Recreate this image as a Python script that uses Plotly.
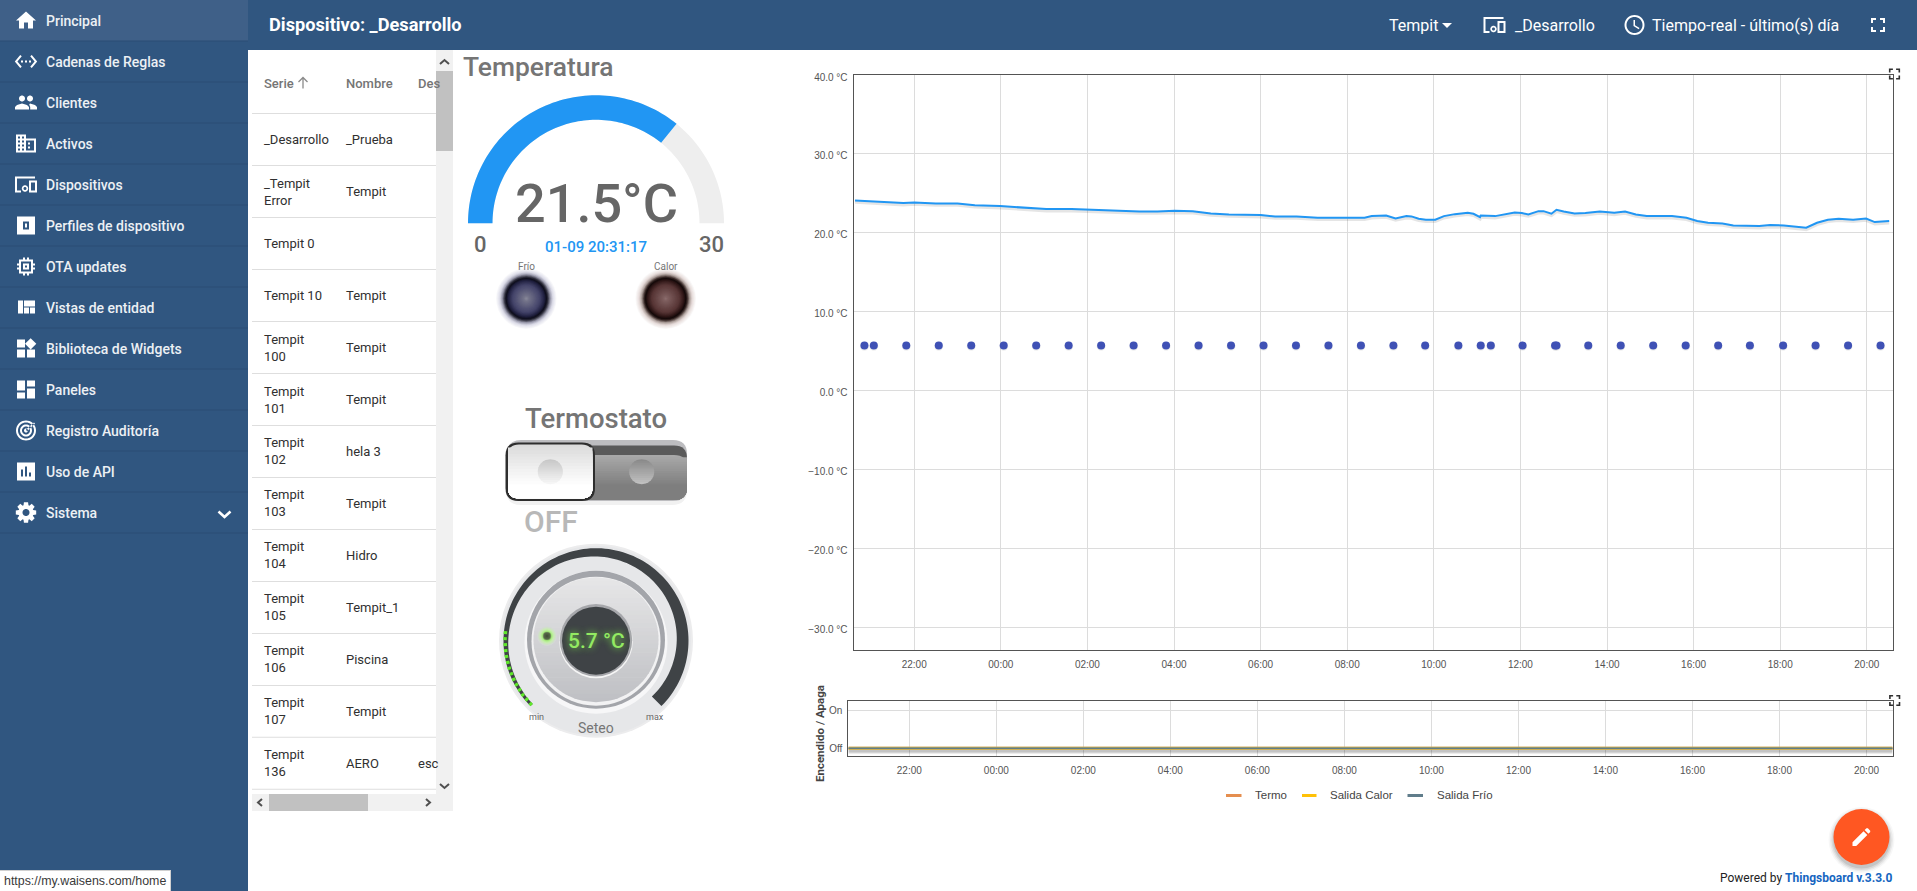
import numpy as np
import plotly.graph_objects as go

W, H = 1917, 891

# ---------------- data ----------------
temp_times = ["01-08 20:38","01-08 21:01","01-08 21:20","01-08 21:45","01-08 22:00","01-08 22:30","01-08 23:00","01-08 23:24","01-08 23:59",
 "01-09 00:24","01-09 00:48","01-09 01:03","01-09 01:38","01-09 02:12","01-09 02:47","01-09 03:12","01-09 03:37","01-09 04:01","01-09 04:26",
 "01-09 04:51","01-09 05:16","01-09 06:00","01-09 06:20","01-09 06:50","01-09 07:19","01-09 08:04","01-09 08:24","01-09 08:34","01-09 08:54",
 "01-09 09:07","01-09 09:22","01-09 09:29","01-09 09:39","01-09 09:49","01-09 10:02","01-09 10:14","01-09 10:29","01-09 10:47","01-09 10:55",
 "01-09 11:04","01-09 11:05","01-09 11:25","01-09 11:40","01-09 11:52","01-09 12:02","01-09 12:11","01-09 12:25","01-09 12:32","01-09 12:43",
 "01-09 12:50","01-09 13:00","01-09 13:15","01-09 13:30","01-09 13:50","01-09 14:10","01-09 14:25","01-09 14:40","01-09 14:55","01-09 15:30",
 "01-09 15:50","01-09 16:05","01-09 16:20","01-09 16:40","01-09 16:55","01-09 17:31","01-09 17:46","01-09 18:05","01-09 18:36","01-09 18:51",
 "01-09 19:06","01-09 19:21","01-09 19:41","01-09 19:59","01-09 20:11","01-09 20:31"]
temp_values = [24.09,23.97,23.80,23.76,23.84,23.71,23.71,23.50,23.38,23.21,23.12,23.0,23.0,22.87,22.83,22.70,22.70,22.78,22.74,22.45,22.32,
 22.24,22.07,22.07,21.90,21.90,21.90,22.11,22.19,21.81,22.11,22.07,21.77,21.65,21.65,22.11,22.36,22.53,22.41,21.98,22.19,22.11,22.32,22.57,
 22.49,22.32,22.74,22.74,22.41,22.91,22.70,22.45,22.49,22.70,22.53,22.70,22.32,22.11,22.11,21.90,21.48,21.27,21.18,20.93,20.84,20.97,20.93,
 20.63,21.27,21.65,21.77,21.65,21.81,21.35,21.48]
set_times = ["01-08 20:51","01-08 21:04","01-08 21:49","01-08 22:34","01-08 23:19","01-09 00:04","01-09 00:49","01-09 01:34","01-09 02:19",
 "01-09 03:04","01-09 03:49","01-09 04:34","01-09 05:19","01-09 06:04","01-09 06:49","01-09 07:34","01-09 08:19","01-09 09:04","01-09 09:48",
 "01-09 10:34","01-09 11:05","01-09 11:19","01-09 12:03","01-09 12:48","01-09 12:50","01-09 13:34","01-09 14:19","01-09 15:04","01-09 15:49",
 "01-09 16:34","01-09 17:18","01-09 18:04","01-09 18:49","01-09 19:34","01-09 20:19"]
set_values = [5.7] * len(set_times)
window = ["2022-01-08 20:36", "2022-01-09 20:36"]
state_values = [0, 0]

gauge_value, gauge_min, gauge_max = 21.5, 0, 30
knob_value, knob_min, knob_max = 5.7, 0, 30
gauge_time = "01-09 20:31:17"

menu = ["Principal","Cadenas de Reglas","Clientes","Activos","Dispositivos","Perfiles de dispositivo","OTA updates",
        "Vistas de entidad","Biblioteca de Widgets","Paneles","Registro Auditoría","Uso de API","Sistema"]
serie = ["_Desarrollo","_Tempit<br>Error","Tempit 0","Tempit 10","Tempit<br>100","Tempit<br>101","Tempit<br>102","Tempit<br>103",
         "Tempit<br>104","Tempit<br>105","Tempit<br>106","Tempit<br>107","Tempit<br>136"]
nombre = ["_Prueba","Tempit","","Tempit","Tempit","Tempit","hela 3","Tempit","Hidro","Tempit_1","Piscina","Tempit","AERO"]
desc = [""]*12 + ["esc"]

temp_times = ["2022-" + t for t in temp_times]
set_times = ["2022-" + t for t in set_times]

# ---------------- chrome helpers ----------------
shapes, notes = [], []
NAVY = "#305680"
REF = dict(xref="x3", yref="y3", layer="below")

def rect(x0, y0, x1, y1, c):
    shapes.append(dict(type="rect", x0=x0, y0=y0, x1=x1, y1=y1, fillcolor=c, line_width=0, **REF))

def circ(cx, cy, r, c):
    shapes.append(dict(type="circle", x0=cx-r, y0=cy-r, x1=cx+r, y1=cy+r, fillcolor=c, line_width=0, **REF))

def path(d, c, line=0, lc=None):
    shapes.append(dict(type="path", path=d, fillcolor=c, line=dict(width=line, color=lc or c), **REF))

def stroke(d, c, w):
    shapes.append(dict(type="path", path=d, line=dict(width=w, color=c), **REF))

def hex2(c):
    c = c.lstrip("#")
    return [int(c[i:i+2], 16) for i in (0, 2, 4)]

def mix(a, b, t):
    a, b = hex2(a), hex2(b)
    return "#%02x%02x%02x" % tuple(int(round(a[i] + (b[i]-a[i])*t)) for i in range(3))

def radial(cx, cy, stops, step=1.0):
    rs = [s[0] for s in stops]
    r = rs[-1]
    while r > 0:
        for i in range(len(stops)-1):
            if rs[i] <= r <= rs[i+1]:
                t = (r-rs[i]) / max(rs[i+1]-rs[i], 1e-6)
                circ(cx, cy, r, mix(stops[i][1], stops[i+1][1], t))
                break
        r -= step

def poly(pts):
    return "M" + " L".join(f"{x:.2f},{y:.2f}" for x, y in pts) + " Z"

def disc_v(cx, cy, r, top, bot, n=30):
    ys = np.linspace(-r, r, n+1)
    for i in range(n):
        a = np.linspace(ys[i], min(ys[i+1]+0.6, r), 4)
        hw = np.sqrt(np.maximum(r*r-a*a, 0))
        pts = [(cx-h, cy+y) for h, y in zip(hw, a)] + [(cx+h, cy+y) for h, y in zip(hw[::-1], a[::-1])]
        path(poly(pts), mix(top, bot, i/(n-1)))

def rrect(x0, y0, x1, y1, r):
    r = min(r, (y1-y0)/2, (x1-x0)/2)
    return (f"M{x0+r},{y0} L{x1-r},{y0} Q{x1},{y0} {x1},{y0+r} L{x1},{y1-r} Q{x1},{y1} {x1-r},{y1} "
            f"L{x0+r},{y1} Q{x0},{y1} {x0},{y1-r} L{x0},{y0+r} Q{x0},{y0} {x0+r},{y0} Z")

def vgrad(x0, y0, x1, y1, r, top, bot, n=14):
    path(rrect(x0, y0, x1, y1, r), top)
    for k in range(1, n):
        y = y0 + (y1-r-y0)*k/n
        path(f"M{x0},{y} L{x1},{y} L{x1},{y1-r} Q{x1},{y1} {x1-r},{y1} L{x0+r},{y1} Q{x0},{y1} {x0},{y1-r} Z", mix(top, bot, k/(n-1)))

def box(a, b, c, d):
    return [(a, b), (c, b), (c, d), (a, d)]

def ring(cx, cy, r, n=36):
    t = np.linspace(0, 2*np.pi, n, endpoint=False)
    return list(zip(cx + r*np.cos(t), cy + r*np.sin(t)))

def icon(cx, cy, parts, c="#ffffff", s=1.0):
    d = " ".join(poly([(cx+(x-12)*s, cy+(y-12)*s) for x, y in p]) for p in parts)
    path(d, c)

def txt(x, y, t, size=12, color="#000000", anchor="left", weight=400, family="Roboto", shadow=None, **kw):
    f = dict(size=size, color=color, weight=weight, family=family)
    if shadow:
        f["shadow"] = shadow
    notes.append(dict(x=x, y=y, text=t, xref="x3", yref="y3", showarrow=False, xanchor=anchor, yanchor="middle",
                      align=anchor, borderpad=0, font=f, **kw))

gear = []
for k in range(8):
    a = k*np.pi/4
    for da, rad in [(-0.33, 7.6), (-0.2, 10.4), (0.2, 10.4), (0.33, 7.6)]:
        gear.append((12+rad*np.cos(a+da), 12+rad*np.sin(a+da)))

ICONS = [
 [[(10,20),(10,14),(14,14),(14,20),(19,20),(19,12),(22,12),(12,3),(2,12),(5,12),(5,20)]],
 [[(7.77,6.76),(6.23,5.48),(.82,12),(6.23,18.52),(7.77,17.24),(3.42,12)],[(16.23,6.76),(17.77,5.48),(23.18,12),(17.77,18.52),(16.23,17.24),(20.58,12)],
  box(7,11,9,13),box(11,11,13,13),box(15,11,17,13)],
 [ring(16,8,3),ring(8,8,3),[(1,19),(1,16.5),(3,14.5),(8,13),(13,14.5),(15,16.5),(15,19)],[(16.2,19),(16.2,16.5),(15.2,14),(16,13),(21,14.5),(23,16.5),(23,19)]],
 [[(2,3),(12,3),(12,7),(22,7),(22,21),(2,21)]]+[box(x,y,x+2,y+2) for x in (4,8) for y in (5,9,13,17)]+[box(12,9,20,19),box(14,11,16,13),box(14,15,16,17)],
 [[(1,4),(21,4),(21,6),(3,6),(3,18),(7,18),(7,20),(1,20)],ring(11,16,3.2),ring(11,16,1.5),box(15,8,23,20),box(17,10,21,18)],
 [box(3,3,21,21),box(9,8,15,16),box(11,10,13,14)],
 [box(5,5,19,19),box(7,7,17,17),box(9,9,15,15),box(11,11,13,13)]+[box(9,3,11,5),box(13,3,15,5),box(9,19,11,21),box(13,19,15,21),box(3,9,5,11),box(3,13,5,15),box(19,9,21,11),box(19,13,21,15)],
 [box(10,12,15,18),box(4,5,9,18),box(16,12,21,18),box(10,5,21,11)],
 [box(13,13,21,21),box(3,13,11,21),box(3,3,11,11),[(16.66,1.69),(11,7.34),(16.66,13),(22.32,7.34)]],
 [box(3,3,11,13),box(3,15,11,21),box(13,11,21,21),box(13,3,21,9)],
 [ring(12,12,10),ring(12,12,8),ring(12,12,6),ring(12,12,4),ring(12,12,2),[(12,11),(20,4),(21,5),(13,13)]],
 [box(3,3,21,21),box(7,10,9,17),box(11,7,13,17),box(15,13,17,17)],
 [gear,ring(12,12,3.5)],
]
FULL = [[(5,5),(10,5),(10,7),(7,7),(7,10),(5,10)],[(14,5),(19,5),(19,10),(17,10),(17,7),(14,7)],
        [(5,14),(7,14),(7,17),(10,17),(10,19),(5,19)],[(17,14),(19,14),(19,19),(14,19),(14,17),(17,17)]]

# ---------------- table ----------------
rect(436, 50, 453, 811, "#f1f1f1")
rect(252, 794, 453, 811, "#f1f1f1")
rect(436, 71, 453, 151, "#c1c1c1")
rect(269, 794, 368, 811, "#c1c1c1")
stroke("M440,64 L444.5,60 L449,64", "#505050", 2)
stroke("M440,784 L444.5,788 L449,784", "#505050", 2)
stroke("M262,799 L258,802.5 L262,806", "#505050", 2)
stroke("M426,799 L430,802.5 L426,806", "#505050", 2)
for i in range(14):
    y = 113.6 + 51.98*i
    rect(252, y-0.5, 436, y+0.5, "#dedede")
HEAD = "#757575"
txt(263.3, 83, "Serie", 13, HEAD, weight=500)
stroke("M303,88.5 L303,77.5 M298.5,82 L303,77.5 L307.5,82", "#8a8a8a", 1.3)
txt(345.3, 83, "Nombre", 13, HEAD, weight=500)
txt(417, 83, "Des", 13, HEAD, weight=500)
for i in range(13):
    y = 139.6 + 51.98*i
    txt(263.3, y, serie[i], 13, "#303030")
    if nombre[i]:
        txt(345.3, y, nombre[i], 13, "#303030")
    if desc[i]:
        txt(417, y, desc[i], 13, "#303030")

# ---------------- sidebar & header ----------------
rect(0, 0, 248, H, NAVY)
rect(248, 0, W, 50, NAVY)
rect(0, 0, 248, 41, "#3f6088")
for i in range(13):
    y = 41*(i+1)
    rect(0, y-0.5, 248, y+0.5, "#2a4d74")
    cy = 20.5 + 41*i
    icon(26, cy, ICONS[i])
    txt(45, cy, menu[i], 14, "#ecf0f4", weight=500)
stroke("M218.5,511.5 L224.5,517 L230.5,511.5", "#ffffff", 2.6)
rect(0, 870, 171, H, "#ffffff")
rect(0, 870, 171, 871, "#d0d0d0")
rect(170, 870, 171, H, "#d0d0d0")
txt(3, 881, "https://my.waisens.com/home", 12.4, "#3a3a3a", family="Liberation Sans")

txt(267.5, 24.5, "Dispositivo: _Desarrollo", 18.2, "#ffffff", weight=700)
txt(1387.5, 25, "Tempit", 16, "#ffffff")
path("M1442,23 L1452,23 L1447,28 Z", "#ffffff")
icon(1494.5, 25, ICONS[4])
txt(1514, 25, "_Desarrollo", 16, "#ffffff")
icon(1634.5, 25, [ring(12,12,10),ring(12,12,8),[(11,7),(12.5,7),(12.5,12.2),(17,15),(16.2,16.2),(11,13)]])
txt(1650.5, 25, "Tiempo-real - último(s) día", 16, "#ffffff")
icon(1878, 25, FULL)
icon(1894.5, 74, FULL, "#303030", 0.8)
icon(1894.7, 700.5, FULL, "#303030", 0.8)

# ---------------- gauge ----------------
GX, GY, GR, Gr = 596, 223.3, 128, 103.5
def sector(v0, v1):
    a = np.pi*(1-(np.linspace(v0, v1, 80)-gauge_min)/(gauge_max-gauge_min))
    xs = np.r_[GX+GR*np.cos(a), GX+Gr*np.cos(a[::-1])]
    ys = np.r_[GY-GR*np.sin(a), GY-Gr*np.sin(a[::-1])]
    return xs, ys

txt(461.5, 67, "Temperatura", 26.4, "#757575", weight=500)
txt(596, 203.5, f"{gauge_value}°C", 54, "#666666", "center", weight=500)
txt(480.5, 244, str(gauge_min), 22, "#666666", "center", weight=500)
txt(711.5, 244, str(gauge_max), 22, "#666666", "center", weight=500)
txt(596, 247, gauge_time, 15, "#2196f3", "center", weight=500)
txt(526, 266, "Frío", 10, "#757575", "center")
txt(666, 266, "Calor", 10, "#757575", "center")

radial(526.3, 298.6, [(0,"#8d8d9e"),(3,"#74748a"),(14,"#44446a"),(18.5,"#20203f"),(20.5,"#0e0e1c"),(22,"#2e2e3c"),(24.5,"#9c9cae"),(27,"#dcdce8"),(31,"#ffffff")], 0.7)
radial(665.7, 298.6, [(0,"#8f7070"),(3,"#7d5e5e"),(14,"#583636"),(18.5,"#2e1616"),(20.5,"#120808"),(22,"#382826"),(24.5,"#aea09c"),(27,"#e6dcda"),(31,"#ffffff")], 0.7)

# ---------------- toggle ----------------
txt(596, 418, "Termostato", 27.5, "#757575", "center", weight=500)
path(rrect(506, 441, 687, 505, 15), "#f1f1f1")
path(rrect(507, 440, 687, 501, 14), "#bdbdc0")
path(rrect(520, 445.5, 687, 480, 13), "#5a5a5a")
vgrad(520, 455, 687, 500, 13, "#a8a8a8", "#7e7e7e")
path(rrect(505.5, 442.5, 595, 501, 13), "#2e2e2e")
vgrad(508, 444.5, 592.5, 498.5, 11, "#dcdcdc", "#ffffff")
disc_v(550.3, 471.7, 12.5, "#c8c8c8", "#f5f5f5", 12)
disc_v(641.7, 471.7, 12.5, "#8a8a8a", "#c0c0c0", 12)
txt(550.5, 521, "OFF", 30, "#b8b8b8", "center", weight=500)

# ---------------- knob ----------------
KX, KY = 596, 640.7
circ(KX, KY, 97, "#ececed")
circ(KX, KY, 95, "#e6e7e9")
circ(KX, KY+1.5, 71.5, "#f7f7f8")
circ(KX, KY-1, 69, "#a3a5aa")
circ(KX, KY+0.5, 64.5, "#f2f2f3")
disc_v(KX, KY-1, 62.5, "#e6e6e7", "#bfc0c4")
circ(KX, KY+0.7, 36.8, "#f5f5f5")
circ(KX, KY-0.5, 36.2, "#a6a7ab")
circ(KX, KY, 34, "#3f4346")
radial(547, 636, [(0,"#3d4a34"),(3.5,"#5a6a4a"),(5,"#a9f07f"),(7,"#c8ecb0"),(10,"#d6d7da")], 0.6)
txt(596, 640.7, f"{knob_value} °C", 21, "#93ea62", "center", weight=500, shadow="0 0 7px #7ee84a")
txt(536, 717, "min", 9, "#666666", "center")
txt(654.7, 717, "max", 9, "#666666", "center")
txt(596, 728, "Seteo", 14, "#757575", "center")

a_all = np.radians(np.linspace(225, -45, 120))
R_in = np.linspace(89.5, 79, 120)
knob_x = np.r_[KX+92.5*np.cos(a_all), (KX+R_in*np.cos(a_all))[::-1]]
knob_y = np.r_[KY-92.5*np.sin(a_all), (KY-R_in*np.sin(a_all))[::-1]]
frac = (knob_value-knob_min)/(knob_max-knob_min)
a_val = np.radians(np.linspace(225, 225-270*frac, 40))
lit_x = KX+91*np.cos(a_val)
lit_y = KY-91*np.sin(a_val)

# ---------------- fab / footer ----------------
for k, al in enumerate((0.03, 0.05, 0.07, 0.09)):
    circ(1861.5, 840, 33-k*1.5, f"rgba(0,0,0,{al})")
circ(1861.5, 837, 28, "#ff5722")
icon(1861.5, 837, [[(3,17.25),(3,21),(6.75,21),(17.81,9.94),(14.06,6.19)],[(15.13,5.12),(16.96,3.29),(18.37,3.29),(20.71,5.63),(20.71,7.04),(18.88,8.87)]])
txt(1893.5, 878, 'Powered by <span style="color:#1565c0"><b>Thingsboard v.3.3.0</b></span>', 12, "#222222", "right")

# ---------------- small-chart legend & title ----------------
txt(819.5, 733.5, "Encendido / Apaga", 11.5, "#444444", "center", weight=700, textangle=-90)
for x0, x1, tx, label, col in [(1226,1241.5,1253.5,"Termo","#e58e4f"),(1302,1316.5,1328.5,"Salida Calor","#ffc107"),(1407.5,1423,1435.5,"Salida Frío","#607d8b")]:
    rect(x0, 794, x1, 797, col)
    txt(tx, 795, label, 11.5, "#444444", family="Liberation Sans")

# ---------------- figure ----------------
fig = go.Figure()
AX = dict(xaxis="x", yaxis="y")
fig.add_trace(go.Scatter(x=temp_times, y=np.array(temp_values)-0.2, mode="lines", line=dict(color="rgba(0,0,0,0.10)", width=3.5), hoverinfo="skip", **AX))
fig.add_trace(go.Scatter(x=temp_times, y=temp_values, mode="lines", name="Temperatura", line=dict(color="#2196f3", width=2), **AX))
fig.add_trace(go.Scatter(x=set_times, y=np.array(set_values)-0.1, mode="markers", marker=dict(size=9, color="rgba(0,0,0,0.07)"), hoverinfo="skip", **AX))
fig.add_trace(go.Scatter(x=set_times, y=set_values, mode="markers", name="Seteo", marker=dict(size=8, color="#3f51b5"), **AX))

B2 = dict(xaxis="x2", yaxis="y2")
for off, al in ((-0.095, 0.10), (-0.06, 0.14)):
    fig.add_trace(go.Scatter(x=window, y=np.array(state_values)+off, mode="lines", line=dict(color=f"rgba(0,0,0,{al})", width=4), hoverinfo="skip", **B2))
fig.add_trace(go.Scatter(x=window, y=state_values, mode="lines", name="Termo", line=dict(color="#e58e4f", width=3), **B2))
fig.add_trace(go.Scatter(x=window, y=state_values, mode="lines", name="Salida Calor", line=dict(color="#c9b548", width=3), **B2))
fig.add_trace(go.Scatter(x=window, y=state_values, mode="lines", name="Salida Frío", line=dict(color="#607d8b", width=1.5), **B2))

C3 = dict(xaxis="x3", yaxis="y3", hoverinfo="skip")
gx, gy = sector(gauge_min, gauge_max)
fig.add_trace(go.Scatter(x=gx, y=gy, fill="toself", fillcolor="#eeeeee", mode="none", **C3))
gx, gy = sector(gauge_min, gauge_value)
fig.add_trace(go.Scatter(x=gx, y=gy, fill="toself", fillcolor="#2196f3", mode="none", **C3))
fig.add_trace(go.Scatter(x=knob_x, y=knob_y, fill="toself", fillcolor="#3f4346", mode="none", **C3))
fig.add_trace(go.Scatter(x=lit_x, y=lit_y, mode="lines", line=dict(color="#5fe82a", width=3.5, dash="3px,3px"), **C3))

TF = dict(family="Liberation Sans", size=10, color="#545454")
LINE = dict(showline=True, mirror=True, linecolor="#545454", linewidth=1, zeroline=False, showgrid=True, gridcolor="#dcdcdc", gridwidth=1, ticks="", fixedrange=True)
XT = dict(type="date", range=window, tickformat="%H:%M", tick0="2022-01-08 22:00", dtick=7200000, tickfont=TF, **LINE)
fig.update_layout(
    width=W, height=H, margin=dict(l=0, r=0, t=0, b=0, pad=0, autoexpand=False), autosize=False, showlegend=False,
    paper_bgcolor="#ffffff", plot_bgcolor="rgba(0,0,0,0)",
    xaxis=dict(domain=[853.6/W, 1892.8/W], anchor="y", ticklabelstandoff=5, **XT),
    yaxis=dict(domain=[1-650/H, 1-75/H], anchor="x", range=[-32.9, 40], tick0=0, dtick=10,
               tickformat=".1f", ticksuffix=" °C", tickfont=TF, ticklabelstandoff=3, ticklabelshift=2, **LINE),
    xaxis2=dict(domain=[848.4/W, 1892.6/W], anchor="y2", ticklabelstandoff=5, **XT),
    yaxis2=dict(domain=[1-755.7/H, 1-701.3/H], anchor="x2", range=[-0.197, 1.25], tickvals=[0, 1], ticktext=["Off", "On"],
                tickfont=TF, ticklabelstandoff=3, **LINE),
    xaxis3=dict(domain=[0, 1], anchor="y3", range=[0, W], visible=False, fixedrange=True),
    yaxis3=dict(domain=[0, 1], anchor="x3", range=[H, 0], visible=False, fixedrange=True),
    shapes=shapes, annotations=notes,
)
fig.write_html("out.html", config=dict(displayModeBar=False),
               post_script="document.body.style.margin='0';document.body.style.overflow='hidden';")
